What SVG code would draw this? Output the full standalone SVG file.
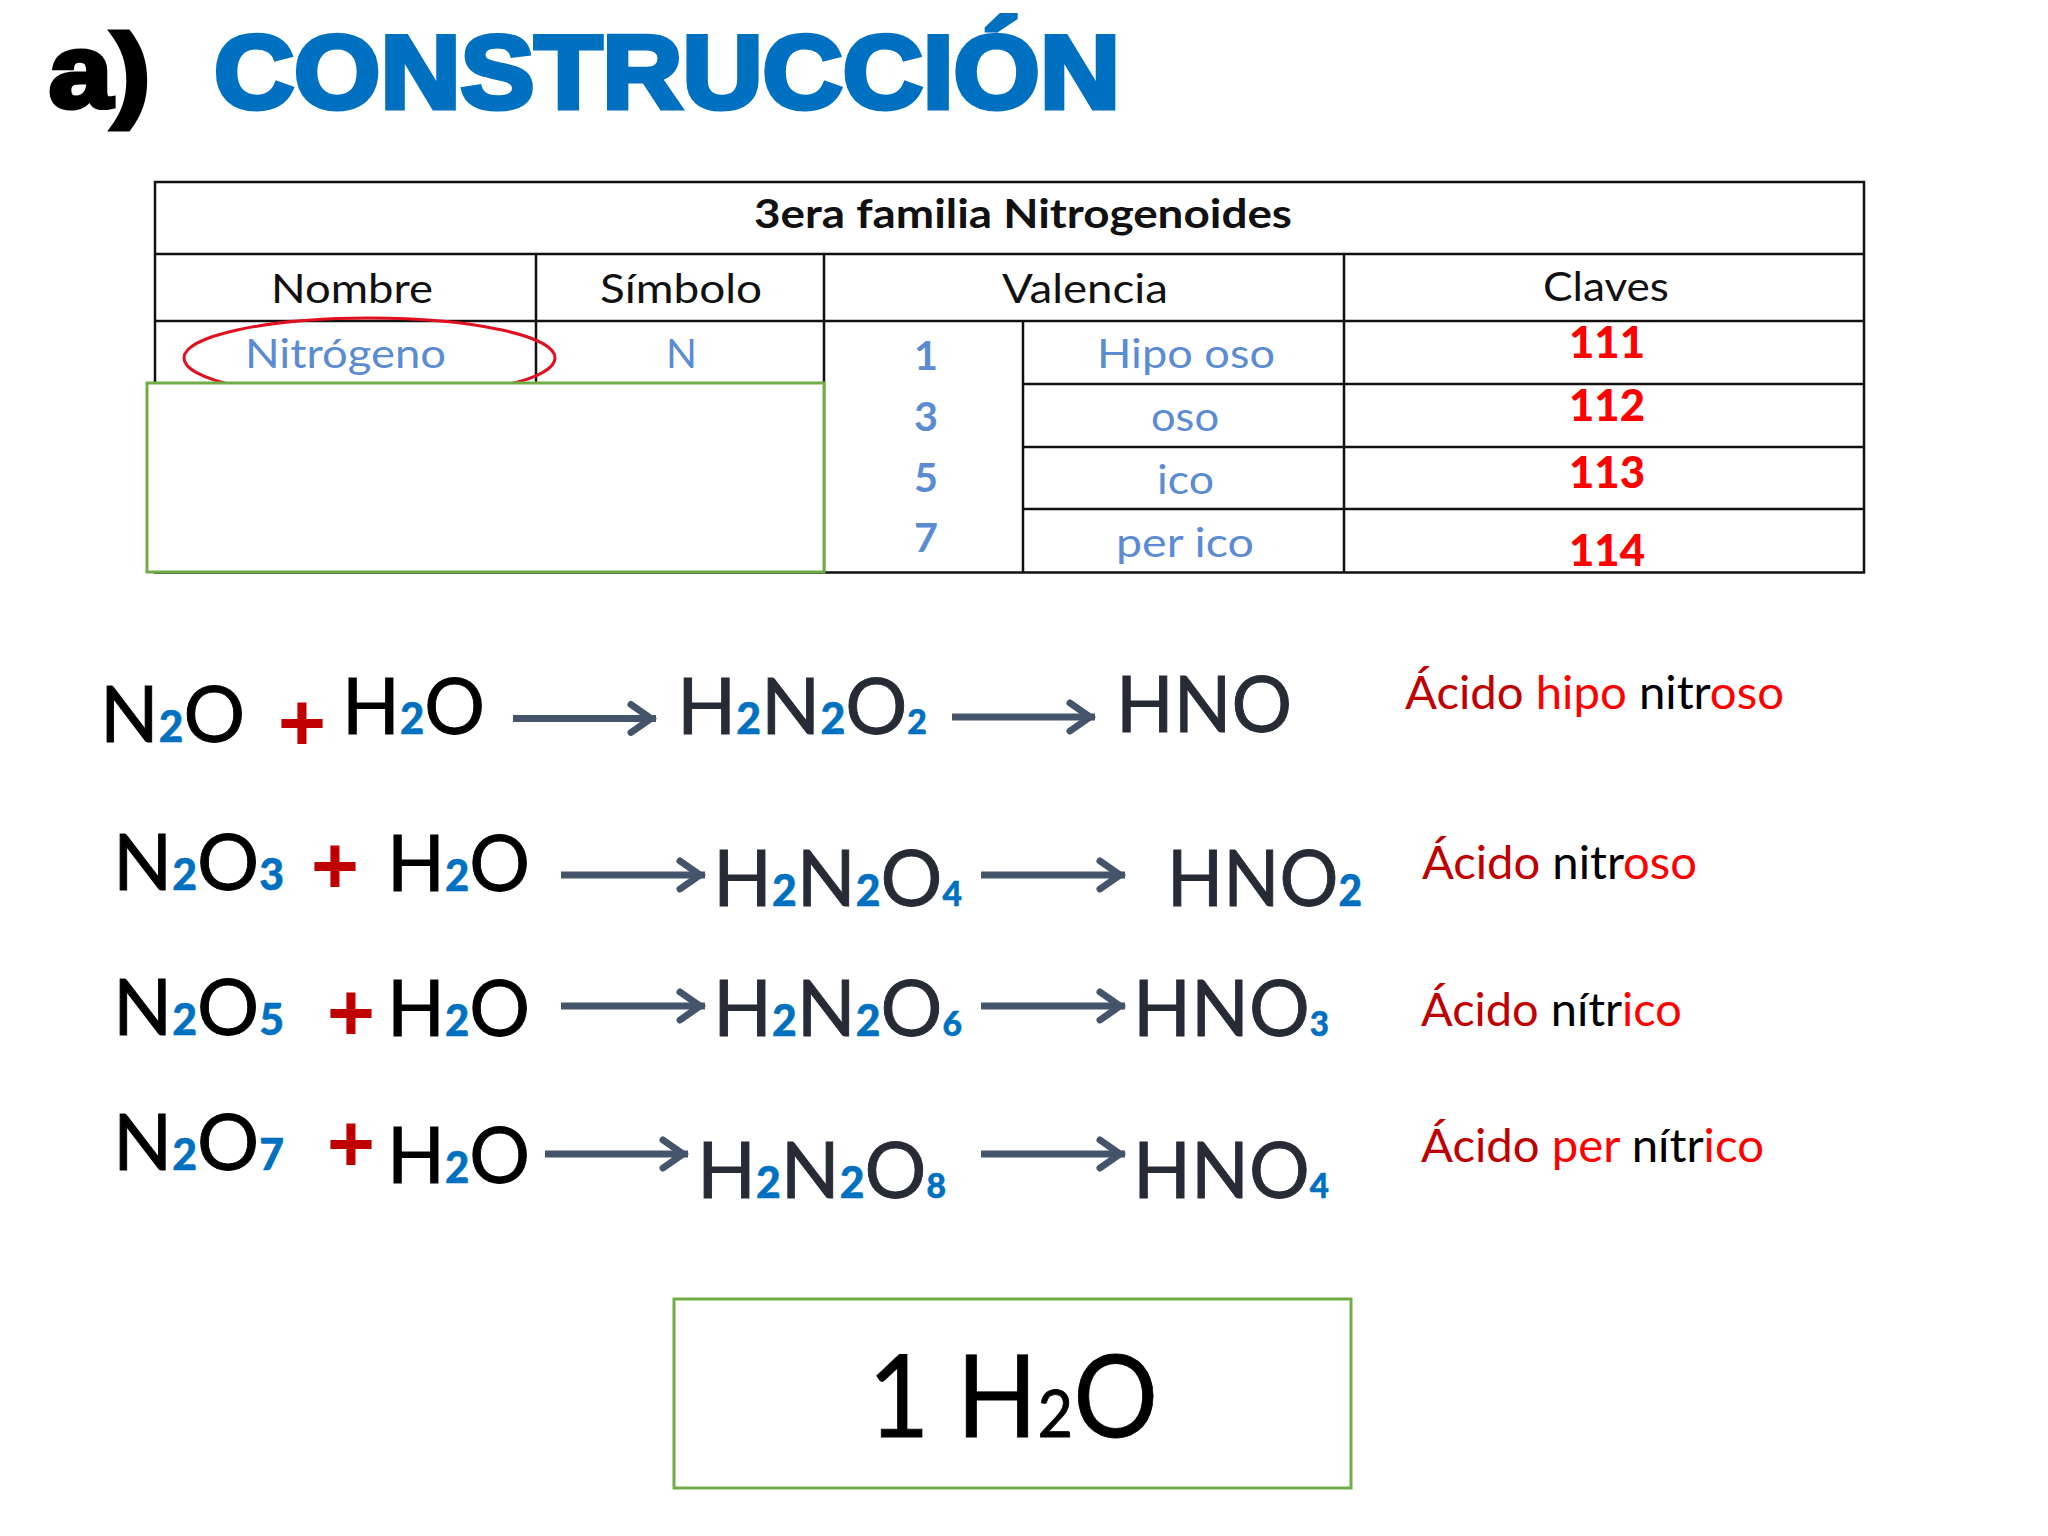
<svg xmlns="http://www.w3.org/2000/svg" width="2048" height="1536" viewBox="0 0 2048 1536">
<style>
text{font-family:"Lato","Open Sans","Liberation Sans",sans-serif}
.t{font-family:"Liberation Sans",Arial,sans-serif;font-weight:700;font-size:103px;stroke-width:5}
.h{font-size:41px;fill:#111}
.b{font-size:41px;fill:#5b8bd2}
.n{font-weight:700;font-size:41px;fill:#5b8bd2}
.k{font-weight:900;font-size:43px;fill:#ff0000}
.f{font-size:78px;fill:#000;stroke:#000;stroke-width:.9}
.d{fill:#262b36;stroke:#262b36}
.s{font-size:43px;font-weight:900;fill:#0070c0;stroke:#0070c0;stroke-width:.5}
.ss{font-size:34px;font-weight:900;fill:#0070c0;stroke:#0070c0;stroke-width:.5}
.p{font-family:"Liberation Sans",Arial,sans-serif;font-weight:700;font-size:82px;fill:#c00000;text-anchor:middle}
.l{font-size:46px;fill:#c00000}
.r{fill:#ff0000}
.x{fill:#000}
.tl{stroke:#111;stroke-width:2.5;fill:none}
.g{fill:#fff;stroke:#70ad47;stroke-width:3}
.a{stroke:#44546a;stroke-width:7;fill:none;marker-end:url(#ah)}
</style>
<defs>
<marker id="ah" markerUnits="userSpaceOnUse" markerWidth="44" markerHeight="44" refX="35" refY="20" orient="auto" overflow="visible">
<path d="M10 6 L30 20 L10 34" fill="none" stroke="#44546a" stroke-width="7" stroke-linecap="round" stroke-linejoin="miter"/>
</marker>
</defs>
<rect width="2048" height="1536" fill="#fff"/>
<g id="title">
<text class="t" x="49" y="107" fill="#000" stroke="#000" textLength="101" lengthAdjust="spacingAndGlyphs">a)</text>
<text class="t" x="214" y="108" fill="#0070c0" stroke="#0070c0" textLength="906" lengthAdjust="spacingAndGlyphs">CONSTRUCCIÓN</text>
</g>
<g id="table">
<rect class="tl" x="155" y="182" width="1709" height="390.5"/>
<path class="tl" d="M155 254H1864M155 321H1864M536 254V384M824 254V572M1344 254V572M1023 321V572M1023 384H1864M1023 447H1864M1023 509H1864"/>
<text class="h" font-weight="700" x="754" y="228" textLength="538" lengthAdjust="spacingAndGlyphs">3era familia Nitrogenoides</text>
<text class="h" x="271" y="303" textLength="162" lengthAdjust="spacingAndGlyphs">Nombre</text>
<text class="h" x="600" y="303" textLength="162" lengthAdjust="spacingAndGlyphs">Símbolo</text>
<text class="h" x="1002" y="303" textLength="166" lengthAdjust="spacingAndGlyphs">Valencia</text>
<text class="h" x="1543" y="301" textLength="126" lengthAdjust="spacingAndGlyphs">Claves</text>
<text class="b" x="245" y="368" textLength="201" lengthAdjust="spacingAndGlyphs">Nitrógeno</text>
<text class="b" x="666" y="368" textLength="31" lengthAdjust="spacingAndGlyphs">N</text>
<text class="n" x="914" y="370" textLength="24" lengthAdjust="spacingAndGlyphs">1</text>
<text class="n" x="914" y="431" textLength="24" lengthAdjust="spacingAndGlyphs">3</text>
<text class="n" x="914" y="492" textLength="24" lengthAdjust="spacingAndGlyphs">5</text>
<text class="n" x="914" y="552" textLength="24" lengthAdjust="spacingAndGlyphs">7</text>
<text class="b" x="1097" y="368" textLength="178" lengthAdjust="spacingAndGlyphs">Hipo oso</text>
<text class="b" x="1151" y="431" textLength="68" lengthAdjust="spacingAndGlyphs">oso</text>
<text class="b" x="1157" y="494" textLength="57" lengthAdjust="spacingAndGlyphs">ico</text>
<text class="b" x="1116" y="557" textLength="138" lengthAdjust="spacingAndGlyphs">per ico</text>
<text class="k" x="1569" y="358" textLength="76" lengthAdjust="spacingAndGlyphs">111</text>
<text class="k" x="1569" y="421" textLength="76" lengthAdjust="spacingAndGlyphs">112</text>
<text class="k" x="1569" y="488" textLength="76" lengthAdjust="spacingAndGlyphs">113</text>
<text class="k" x="1569" y="566" textLength="76" lengthAdjust="spacingAndGlyphs">114</text>
</g>
<g id="highlight">
<ellipse cx="369.5" cy="358" rx="185.5" ry="40" fill="none" stroke="#e01020" stroke-width="3"/>
</g>
<g id="mask-box">
<rect class="g" x="147" y="383" width="677" height="189"/>
</g>
<g id="connectors">
<line class="a" x1="513" y1="718.5" x2="656" y2="718.5"/>
<line class="a" x1="952" y1="717" x2="1095" y2="717"/>
<line class="a" x1="561" y1="875" x2="705" y2="875"/>
<line class="a" x1="981" y1="875" x2="1125" y2="875"/>
<line class="a" x1="561" y1="1006" x2="705" y2="1006"/>
<line class="a" x1="981" y1="1006" x2="1125" y2="1006"/>
<line class="a" x1="545" y1="1154" x2="688" y2="1154"/>
<line class="a" x1="981" y1="1154" x2="1125" y2="1154"/>
</g>
<g id="row1">
<text class="f" x="100" y="742" textLength="145" lengthAdjust="spacingAndGlyphs">N<tspan class="s">2</tspan>O</text>
<text class="p" x="302" y="750">+</text>
<text class="f" x="342" y="734" textLength="143" lengthAdjust="spacingAndGlyphs">H<tspan class="s">2</tspan>O</text>
<text class="f d" x="677" y="734" textLength="250" lengthAdjust="spacingAndGlyphs">H<tspan class="s">2</tspan>N<tspan class="s">2</tspan>O<tspan class="ss">2</tspan></text>
<text class="f d" x="1116" y="732" textLength="176" lengthAdjust="spacingAndGlyphs">HNO</text>
<text class="l" x="1405" y="709" textLength="379" lengthAdjust="spacingAndGlyphs">Ácido <tspan class="r">hipo </tspan><tspan class="x">nitr</tspan><tspan class="r">oso</tspan></text>
</g>
<g id="row2">
<text class="f" x="113" y="890" textLength="171" lengthAdjust="spacingAndGlyphs">N<tspan class="s">2</tspan>O<tspan class="s">3</tspan></text>
<text class="p" x="335" y="893">+</text>
<text class="f" x="387" y="891" textLength="143" lengthAdjust="spacingAndGlyphs">H<tspan class="s">2</tspan>O</text>
<text class="f d" x="713" y="906" textLength="249" lengthAdjust="spacingAndGlyphs">H<tspan class="s">2</tspan>N<tspan class="s">2</tspan>O<tspan class="ss">4</tspan></text>
<text class="f d" x="1167" y="906" textLength="195" lengthAdjust="spacingAndGlyphs">HNO<tspan class="s">2</tspan></text>
<text class="l" x="1422" y="879" textLength="275" lengthAdjust="spacingAndGlyphs">Ácido <tspan class="x">nitr</tspan><tspan class="r">oso</tspan></text>
</g>
<g id="row3">
<text class="f" x="113" y="1035" textLength="171" lengthAdjust="spacingAndGlyphs">N<tspan class="s">2</tspan>O<tspan class="s">5</tspan></text>
<text class="p" x="351" y="1040">+</text>
<text class="f" x="387" y="1036" textLength="143" lengthAdjust="spacingAndGlyphs">H<tspan class="s">2</tspan>O</text>
<text class="f d" x="713" y="1036" textLength="249" lengthAdjust="spacingAndGlyphs">H<tspan class="s">2</tspan>N<tspan class="s">2</tspan>O<tspan class="ss">6</tspan></text>
<text class="f d" x="1133" y="1036" textLength="196" lengthAdjust="spacingAndGlyphs">HNO<tspan class="ss">3</tspan></text>
<text class="l" x="1421" y="1026" textLength="261" lengthAdjust="spacingAndGlyphs">Ácido <tspan class="x">nítr</tspan><tspan class="r">ico</tspan></text>
</g>
<g id="row4">
<text class="f" x="113" y="1170" textLength="171" lengthAdjust="spacingAndGlyphs">N<tspan class="s">2</tspan>O<tspan class="s">7</tspan></text>
<text class="p" x="351" y="1171">+</text>
<text class="f" x="387" y="1183" textLength="143" lengthAdjust="spacingAndGlyphs">H<tspan class="s">2</tspan>O</text>
<text class="f d" x="697" y="1198" textLength="249" lengthAdjust="spacingAndGlyphs">H<tspan class="s">2</tspan>N<tspan class="s">2</tspan>O<tspan class="ss">8</tspan></text>
<text class="f d" x="1133" y="1198" textLength="196" lengthAdjust="spacingAndGlyphs">HNO<tspan class="ss">4</tspan></text>
<text class="l" x="1421" y="1162" textLength="343" lengthAdjust="spacingAndGlyphs">Ácido <tspan class="r">per </tspan><tspan class="x">nítr</tspan><tspan class="r">ico</tspan></text>
</g>
<g id="result-box">
<rect class="g" x="674" y="1299" width="677" height="189"/>
<text x="868" y="1437" font-size="114" fill="#000" stroke="#000" stroke-width=".8" textLength="290" lengthAdjust="spacingAndGlyphs">1 H<tspan font-size="66">2</tspan>O</text>
</g>
</svg>
